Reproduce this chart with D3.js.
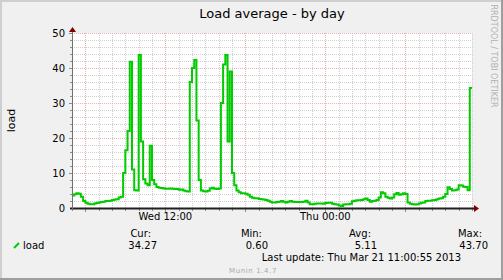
<!DOCTYPE html>
<html>
<head>
<meta charset="utf-8">
<script src="https://cdn.jsdelivr.net/npm/d3@7"></script>
<style>
    body { margin: 0; background: #f0f0f0; }
    svg { display: block; font-family: "DejaVu Sans", sans-serif; }
</style>
</head>
<body>
<div id="chart"></div>
<script>
// load average samples, one every 10 minutes, Wed 05:00 -> Thu 11:00
const startTime = new Date(2013, 2, 20, 5, 0, 0)
const endTime = new Date(2013, 2, 21, 11, 0, 0)
const stepMinutes = 10
const loadValues = [
    3.6, 3.9, 4.2, 4.1, 3.2, 2.0, 1.5, 1.2, 1.1, 1.1,
    1.3, 1.4, 1.6, 1.7, 1.8, 2.0, 2.0, 2.1, 2.3, 2.4,
    2.5, 3.0, 3.2, 10.0, 16.5, 22.0, 41.8, 11.0, 5.1, 5.0,
    43.7, 19.0, 8.2, 7.0, 6.5, 17.8, 8.0, 6.8, 6.0, 5.8,
    5.7, 5.6, 5.5, 5.5, 5.6, 5.5, 5.4, 5.4, 5.2, 5.3,
    5.0, 4.8, 4.7, 36.0, 40.0, 42.3, 25.0, 8.0, 5.0, 4.8,
    4.7, 4.9, 5.6, 5.8, 5.5, 5.4, 5.6, 30.0, 41.0, 43.7,
    19.0, 39.0, 10.0, 6.5, 5.0, 4.5, 4.2, 4.2, 4.1, 3.8,
    3.2, 2.9, 2.8, 2.8, 2.6, 2.5, 2.4, 2.3, 2.1, 1.8,
    1.6, 1.6, 1.7, 1.8, 2.0, 1.8, 1.6, 1.8, 2.0, 1.8,
    1.7, 1.7, 1.7, 1.7, 1.8, 2.1, 1.6, 1.1, 1.1, 1.2,
    1.3, 1.3, 1.3, 1.2, 1.4, 1.5, 1.5, 1.2, 1.1, 1.0,
    0.7, 0.6, 1.0, 1.1, 1.1, 1.2, 1.9, 2.1, 2.2, 2.2,
    2.3, 2.5, 2.7, 2.3, 1.8, 2.0, 2.1, 2.3, 3.0, 4.5,
    4.2, 3.2, 2.9, 2.7, 3.0, 3.9, 4.3, 3.8, 3.9, 4.2,
    4.0, 1.6, 1.2, 1.1, 1.0, 1.1, 1.3, 1.5, 1.6, 2.0,
    2.1, 2.1, 2.2, 2.3, 2.5, 2.7, 2.8, 3.2, 4.0, 5.9,
    5.4, 5.0, 5.1, 5.3, 6.5, 6.4, 6.1, 6.0, 5.1, 34.27
]
const yMax = 50
const yMajorTicks = [0, 10, 20, 30, 40, 50]
const legendHeads = ["Cur:", "Min:", "Avg:", "Max:"]
const legendValues = ["34.27", "0.60", "5.11", "43.70"]
const seriesName = "load"
const title = "Load average - by day"
const lastUpdate = "Last update: Thu Mar 21 11:00:55 2013"

const width = 503, height = 280
const margin = {top: 33, right: 31, bottom: 72, left: 72}
const lineColor = "#00cc00"

const svg = d3.select("#chart").append("svg")
    .attr("width", width)
    .attr("height", height)

// frame with shaded edges
svg.append("rect").attr("width", width).attr("height", height).attr("fill", "#f0f0f0")
svg.append("rect").attr("x", 0).attr("y", 0).attr("width", width).attr("height", 2).attr("fill", "#cfcfcf")
svg.append("rect").attr("x", 0).attr("y", 0).attr("width", 2).attr("height", height).attr("fill", "#cfcfcf")
svg.append("rect").attr("x", 0).attr("y", height - 2).attr("width", width).attr("height", 2).attr("fill", "#9e9e9e")
svg.append("rect").attr("x", width - 2).attr("y", 0).attr("width", 2).attr("height", height).attr("fill", "#9e9e9e")

const plotW = width - margin.left - margin.right
const plotH = height - margin.top - margin.bottom

const x = d3.scaleTime().domain([startTime, endTime]).range([margin.left, margin.left + plotW])
const y = d3.scaleLinear().domain([0, yMax]).range([margin.top + plotH, margin.top])

svg.append("rect")
    .attr("x", margin.left).attr("y", margin.top)
    .attr("width", plotW).attr("height", plotH)
    .attr("fill", "#ffffff")

const grid = svg.append("g").attr("shape-rendering", "crispEdges")
const minorGrid = "#cfcfcf"
const majorGrid = "#ebb4b4"

// vertical grid: every hour minor, every 6 hours major
x.ticks(d3.timeHour.every(1)).forEach(function (t) {
    const major = t.getHours() % 6 === 0
    const px = Math.round(x(t)) + 0.5
    grid.append("line")
        .attr("x1", px).attr("x2", px)
        .attr("y1", margin.top).attr("y2", margin.top + plotH)
        .attr("stroke", major ? majorGrid : minorGrid)
        .attr("stroke-dasharray", "1,1")
    grid.append("line")
        .attr("x1", px).attr("x2", px)
        .attr("y1", margin.top + plotH + 1).attr("y2", margin.top + plotH + (major ? 4 : 3))
        .attr("stroke", "#8c8c8c")
})

// horizontal grid: every 2 minor, every 10 major
d3.range(2, yMax + 1, 2).forEach(function (v) {
    const major = v % 10 === 0
    const py = Math.round(y(v)) + 0.5
    grid.append("line")
        .attr("x1", margin.left).attr("x2", margin.left + plotW)
        .attr("y1", py).attr("y2", py)
        .attr("stroke", major ? majorGrid : minorGrid)
        .attr("stroke-dasharray", "1,1")
    grid.append("line")
        .attr("x1", margin.left - (major ? 3 : 2)).attr("x2", margin.left)
        .attr("y1", py).attr("y2", py)
        .attr("stroke", "#8c8c8c")
})

// y tick labels
svg.append("g").selectAll("text")
    .data(yMajorTicks)
    .join("text")
    .attr("x", margin.left - 7)
    .attr("y", d => y(d))
    .attr("dy", "0.35em")
    .attr("text-anchor", "end")
    .attr("font-size", 10)
    .attr("fill", "#000")
    .text(d => d)

// x tick labels every 12 hours
svg.append("g").selectAll("text")
    .data(x.ticks(d3.timeHour.every(12)))
    .join("text")
    .attr("x", d => x(d))
    .attr("y", margin.top + plotH + 12)
    .attr("text-anchor", "middle")
    .attr("font-size", 10)
    .attr("fill", "#000")
    .text(d => d3.timeFormat("%a %H:%M")(d))

// the load line
const points = loadValues.map((v, i) => ({date: new Date(+startTime + i * stepMinutes * 60000), value: v}))
points.push({date: endTime, value: loadValues[loadValues.length - 1]})
svg.append("path")
    .datum(points)
    .attr("fill", "none")
    .attr("stroke", lineColor)
    .attr("stroke-width", 2)
    .attr("d", d3.line()
        .curve(d3.curveStepAfter)
        .x(d => x(d.date))
        .y(d => y(d.value)))

// axes with arrows
const axisColor = "#202020"
const arrowColor = "#7f0000"
svg.append("line")
    .attr("x1", margin.left - 2).attr("x2", margin.left + plotW + 3)
    .attr("y1", y(0) + 0.5).attr("y2", y(0) + 0.5)
    .attr("stroke", axisColor).attr("stroke-width", 2)
svg.append("line")
    .attr("x1", margin.left + 0.5).attr("x2", margin.left + 0.5)
    .attr("y1", y(0) + 2).attr("y2", margin.top - 3)
    .attr("stroke", "#707070").attr("stroke-width", 1)
svg.append("path")
    .attr("d", `M${margin.left + plotW + 2},${y(0) - 3}L${margin.left + plotW + 7},${y(0) + 0.5}L${margin.left + plotW + 2},${y(0) + 4}Z`)
    .attr("fill", arrowColor)
svg.append("path")
    .attr("d", `M${margin.left - 3},${margin.top - 1}L${margin.left + 0.5},${margin.top - 6}L${margin.left + 4},${margin.top - 1}Z`)
    .attr("fill", arrowColor)

// title and axis label
svg.append("text")
    .attr("x", 272).attr("y", 18)
    .attr("text-anchor", "middle")
    .attr("font-size", 13)
    .text(title)
svg.append("text")
    .attr("transform", `translate(15,${margin.top + plotH / 2}) rotate(-90)`)
    .attr("text-anchor", "middle")
    .attr("font-size", 11)
    .text(seriesName)

svg.append("text")
    .attr("transform", "translate(491,56) rotate(90)")
    .attr("text-anchor", "middle")
    .attr("font-size", 8)
    .attr("fill", "#b0b0b0")
    .text("RRDTOOL / TOBI OETIKER")

// legend
const colRight = [157, 268, 377, 488]
svg.append("g").selectAll("text")
    .data(legendHeads)
    .join("text")
    .attr("x", (d, i) => colRight[i] - 6)
    .attr("y", 237)
    .attr("text-anchor", "end")
    .attr("font-size", 10)
    .text(d => d)
svg.append("g").selectAll("text")
    .data(legendValues)
    .join("text")
    .attr("x", (d, i) => colRight[i])
    .attr("y", 249)
    .attr("text-anchor", "end")
    .attr("font-size", 10)
    .text(d => d)
svg.append("line")
    .attr("x1", 14).attr("y1", 248).attr("x2", 19).attr("y2", 243)
    .attr("stroke", lineColor).attr("stroke-width", 2)
svg.append("text")
    .attr("x", 23).attr("y", 249)
    .attr("font-size", 10)
    .text(seriesName)
svg.append("text")
    .attr("x", 461).attr("y", 261)
    .attr("text-anchor", "end")
    .attr("font-size", 10)
    .text(lastUpdate)
svg.append("text")
    .attr("x", 253).attr("y", 273)
    .attr("text-anchor", "middle")
    .attr("font-size", 7)
    .attr("letter-spacing", 0.6)
    .attr("fill", "#aaaaaa")
    .text("Munin 1.4.7")
</script>
</body>
</html>
